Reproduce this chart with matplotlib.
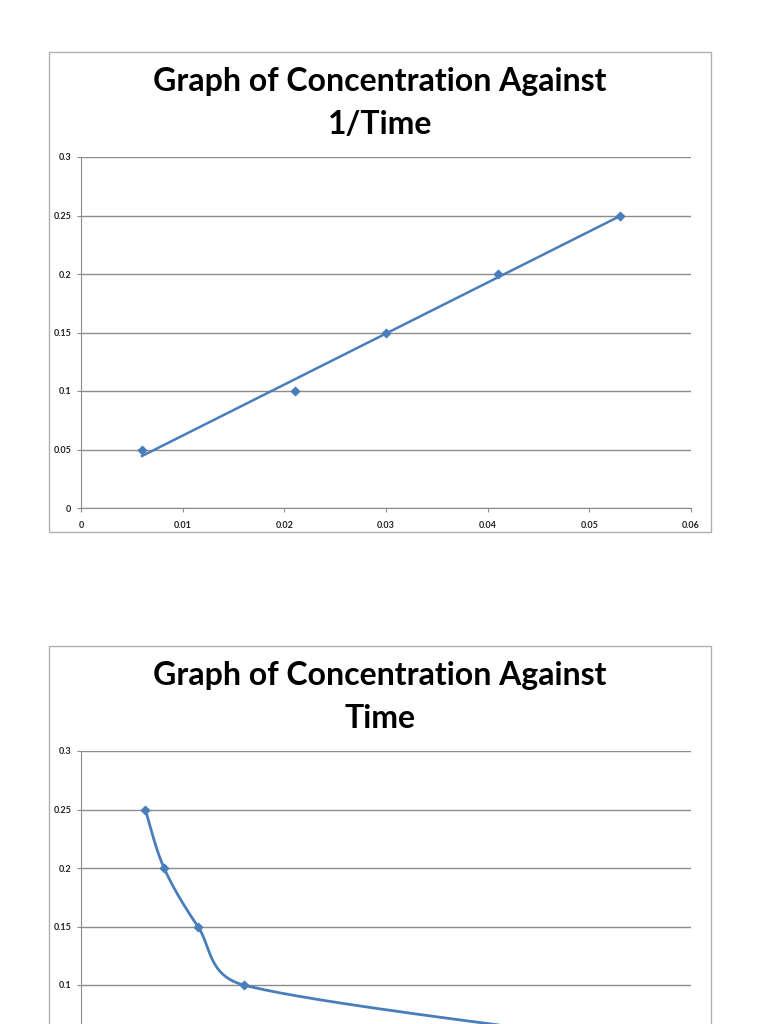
import matplotlib.pyplot as plt
from matplotlib.patches import Rectangle
import numpy as np

# data
inv_time = [0.006, 0.021, 0.030, 0.041, 0.053]
conc = [0.05, 0.10, 0.15, 0.20, 0.25]
time = [165, 48, 34.5, 24.5, 19]
y_ticks = [0, 0.05, 0.1, 0.15, 0.2, 0.25, 0.3]
y_labels = ['0', '0.05', '0.1', '0.15', '0.2', '0.25', '0.3']
x1_labels = ['0', '0.01', '0.02', '0.03', '0.04', '0.05', '0.06']

blue = '#4a7ebb'
grid_c = '#8c8c8c'
W, H = 768, 1024

def excel_smooth(x, y, sx, sy, n=40):
    # cubic bezier through the points, control points from neighbours,
    # shortened on short segments so the curve never folds back
    p = np.column_stack([np.asarray(x, float) * sx, np.asarray(y, float) * sy])
    out = []
    for i in range(len(p) - 1):
        a = p[i-1] if i > 0 else p[i]
        d = p[i+2] if i + 2 < len(p) else p[i+1]
        seg = np.hypot(*(p[i+1] - p[i]))
        o1 = (p[i+1] - a) / 6
        o2 = (d - p[i]) / 6
        o1 *= min(1, 0.5 * seg / max(np.hypot(*o1), 1e-9))
        o2 *= min(1, 0.5 * seg / max(np.hypot(*o2), 1e-9))
        c1, c2 = p[i] + o1, p[i+1] - o2
        t = np.linspace(0, 1, n)[:, None]
        out.append((1-t)**3*p[i] + 3*(1-t)**2*t*c1 + 3*(1-t)*t**2*c2 + t**3*p[i+1])
    out = np.vstack(out)
    return out[:, 0] / sx, out[:, 1] / sy

def style(ax, xmax, xstep, ylabels):
    ax.set_ylim(0, 0.3)
    ax.set_xlim(0, xmax)
    ax.set_yticks(y_ticks)
    ax.set_yticklabels(ylabels)
    ax.set_xticks(np.arange(0, xmax + xstep / 2, xstep))
    ax.yaxis.grid(True, color=grid_c, lw=1)
    ax.set_axisbelow(True)
    for s in ['top', 'right']:
        ax.spines[s].set_visible(False)
    for s in ['left', 'bottom']:
        ax.spines[s].set_color(grid_c)
    ax.tick_params(length=3, color=grid_c, labelsize=6.5, pad=4,
                   labelcolor='#222222')
    for lab in ax.get_yticklabels():
        lab.set_fontweight('bold')

plt.rcParams['font.family'] = ['Lato', 'DejaVu Sans']
fig = plt.figure(figsize=(7.68, 10.24), dpi=100)

# chart frames
for top, bot in [(52, 532), (646, 1040)]:
    fig.patches.append(Rectangle((49 / W, 1 - bot / H), 662 / W, (bot - top) / H,
                                 transform=fig.transFigure, fill=False,
                                 ec='#b0b0b0', lw=1))

ax1 = fig.add_axes([81 / W, 1 - 508 / H, 610 / W, 351 / H])
style(ax1, 0.06, 0.01, y_labels)
ax1.set_xticklabels(x1_labels, fontweight='bold')
ax1.tick_params(axis='x', pad=6)
ax1.scatter(inv_time, conc, marker='D', s=18, color=blue, zorder=3)
k, b = np.polyfit(inv_time, conc, 1)
xt = np.array([min(inv_time), max(inv_time)])
ax1.plot(xt, k * xt + b, color=blue, lw=1.8)
fig.text(380 / W, 1 - 82 / H, 'Graph of Concentration Against', ha='center',
         va='center', fontsize=23, fontweight='bold')
fig.text(380 / W, 1 - 125 / H, '1/Time', ha='center', va='center',
         fontsize=23, fontweight='bold')

# second chart runs off the bottom of the page: its lowest labels are not seen
ax2 = fig.add_axes([81 / W, 1 - 1102 / H, 610 / W, 351 / H])
style(ax2, 180, 20, ['', ''] + y_labels[2:])
ax2.tick_params(axis='x', labelbottom=False)
sx, sy = excel_smooth(time, conc, 610 / 180, 351 / 0.3)
ax2.plot(sx, sy, color=blue, lw=2)
ax2.scatter(time, conc, marker='D', s=18, color=blue, zorder=3)
fig.text(380 / W, 1 - 676 / H, 'Graph of Concentration Against', ha='center',
         va='center', fontsize=23, fontweight='bold')
fig.text(380 / W, 1 - 718 / H, 'Time', ha='center', va='center',
         fontsize=23, fontweight='bold')

fig.savefig('out.png', dpi=100)
